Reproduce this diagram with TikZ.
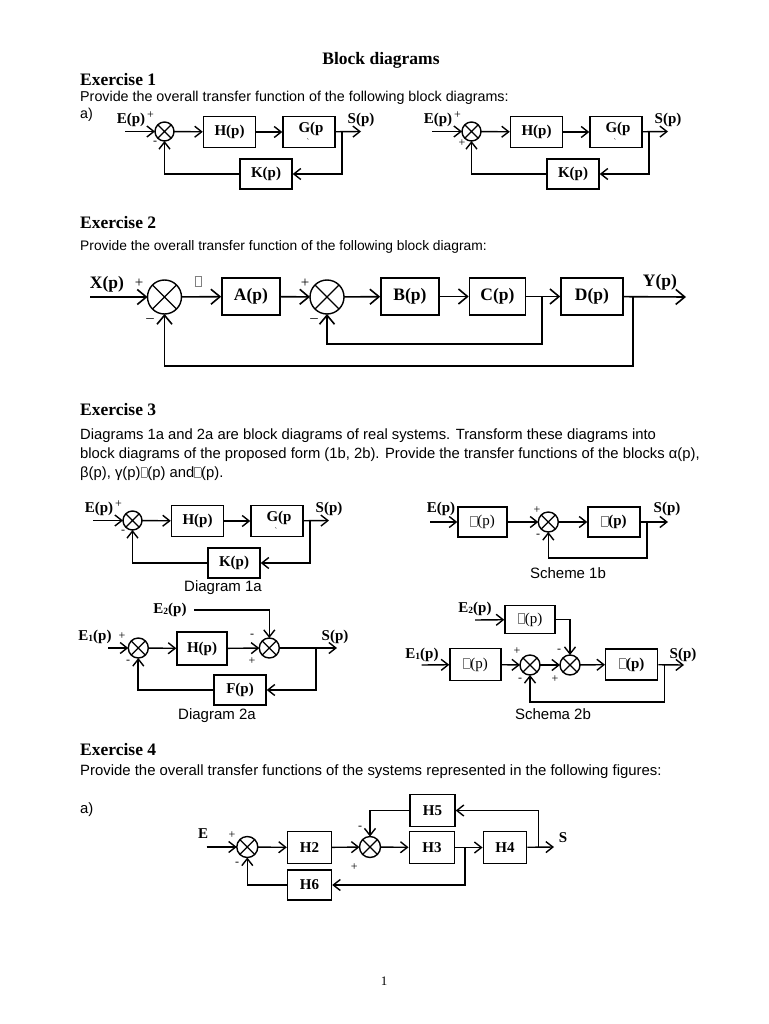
\documentclass[tikz,border=0pt]{standalone}
\usepackage{fontspec}
\setmainfont{Liberation Serif}
\newfontfamily\arial{Liberation Sans}
\usetikzlibrary{arrows.meta}
\newcommand\nog{{\fboxsep=0pt\fboxrule=0.5pt\textcolor{gray}{\fbox{\rule{0pt}{0.62em}\hspace{0.4em}}}}}
\newcommand\sbs[1]{\raisebox{-0.5pt}{\fontsize{9.5}{9.5}\selectfont #1}}
\tikzset{
  arr/.style={line width=1.4pt,-{Straight Barb[length=7pt,width=11pt,line width=1.4pt]}},
  barr/.style={line width=1.6pt,-{Straight Barb[length=9pt,width=15pt,line width=1.6pt]}},
  blk/.style={draw,line width=1.4pt,inner sep=0pt,font=\bfseries\fontsize{15}{16}\selectfont},
  bigblk/.style={draw,line width=1.6pt,inner sep=0pt,font=\bfseries\fontsize{17.5}{18}\selectfont},
  sj/.style={draw,circle,line width=1.4pt,inner sep=0pt,outer sep=0pt},
  lbl/.style={inner sep=0pt,font=\bfseries\fontsize{15}{16}\selectfont},
  biglbl/.style={inner sep=0pt,font=\bfseries\fontsize{17.5}{18}\selectfont},
  sgn/.style={inner sep=0pt,font=\fontsize{12}{12}\selectfont},
  bigsgn/.style={inner sep=0pt,font=\fontsize{15}{15}\selectfont},
  captxt/.style={inner sep=0pt,font=\arial\fontsize{15}{16}\selectfont},
  body/.style={inner sep=0pt,anchor=base west,font=\arial\fontsize{13.8}{16}\selectfont},
  head/.style={inner sep=0pt,anchor=base west,font=\bfseries\fontsize{17.5}{19}\selectfont},
}
\newcommand\sumat[3]{\node[sj,minimum size=#3] (#1) at (#2) {};
  \draw[line width=1.3pt] (#1.north west)--(#1.south east) (#1.north east)--(#1.south west);}
\newcommand\exone[4]{%
\begin{scope}[xshift=#2,yshift=#3]
\node[lbl] (#1e) at (131,120) {E(p)};
\node[sgn] (#1p) at (150.5,115) {+};
\sumat{#1c}{164.5,131.5}{19pt}
\coordinate (#1in) at (125,131.5);
\node[sgn] (#1m) at (155,143) {#4};
\node[blk,minimum width=52pt,minimum height=30.5pt] (#1h) at (229.5,132) {H(p)};
\node[blk,minimum width=52pt,minimum height=30.5pt] (#1g) at (309,132) {};
\node[lbl] (#1gt) at (311,129) {G(p};
\node[inner sep=0pt,font=\fontsize{8}{8}\selectfont] (#1gk) at (308,142) {\textasciigrave};
\node[blk,minimum width=52pt,minimum height=30pt] (#1k) at (266,174) {K(p)};
\coordinate (#1o) at (361,131.5);
\coordinate (#1t) at (342,131.5);
\node[lbl] (#1s) at (361,120) {S(p)};
\draw[arr] (#1in) -- (#1c);
\draw[arr] (#1c) -- (#1h);
\draw[arr] (#1h) -- (#1g);
\draw[arr] (#1g) -- (#1o);
\draw[arr] (#1t) |- (#1k);
\draw[arr] (#1k) -| (#1c);
\end{scope}}
\begin{document}
\begin{tikzpicture}[x=1pt,y=-1pt]
\fill[white] (0,0) rectangle (768,1024);
\path[use as bounding box] (0,0) rectangle (768,1024);
% headings and text
\node[inner sep=0pt,anchor=base,font=\bfseries\fontsize{17.5}{19}\selectfont] (title) at (381,65) {Block diagrams};
\node[head] (h1) at (80,86) {Exercise 1};
\node[body,font=\arial\fontsize{14.3}{16}\selectfont] (t1) at (80,102) {Provide the overall transfer function of the following block diagrams:};
\node[body,font=\arial\fontsize{14.3}{16}\selectfont] (a1) at (80,119) {a)};
\node[head] (h2) at (80,229) {Exercise 2};
\node[body] (t2) at (80,251) {Provide the overall transfer function of the following block diagram:};
\node[head] (h3) at (80,415) {Exercise 3};
\node[body,font=\arial\fontsize{14.8}{16}\selectfont] (t3a) at (80,439) {Diagrams 1a and 2a are block diagrams of real systems. Transform these diagrams into};
\node[body,font=\arial\fontsize{14.8}{16}\selectfont] (t3b) at (80,458) {block diagrams of the proposed form (1b, 2b). Provide the transfer functions of the blocks α(p),};
\node[body,font=\arial\fontsize{14.8}{16}\selectfont] (t3c) at (80,477) {β(p), γ(p)\nog(p) and\nog(p).};
\node[head] (h4) at (80,755) {Exercise 4};
\node[body,font=\arial\fontsize{14.9}{16}\selectfont] (t4) at (80,775) {Provide the overall transfer functions of the systems represented in the following figures:};
\node[body,font=\arial\fontsize{14.9}{16}\selectfont] (a4) at (80,813) {a)};
\node[inner sep=0pt,anchor=base,font=\fontsize{13}{14}\selectfont] (pg) at (384,985) {1};
% Exercise 1
\exone{L}{0}{0}{-}
\exone{R}{307}{0}{+}
% Exercise 2
\node[biglbl] (xp) at (107,284) {X(p)};
\node[bigsgn] (xpp) at (139,283) {+};
\sumat{ca}{164.5,297}{34pt}
\coordinate (xin) at (90,297);
\node[bigsgn] (cam) at (150,321) {--};
\node[inner sep=0pt,font=\fontsize{15}{15}\selectfont] (eps) at (198,281) {\nog};
\node[bigblk,minimum width=58pt,minimum height=37pt] (A) at (251,296.5) {A(p)};
\node[bigsgn] (cbp) at (305,283) {+};
\sumat{cb}{327,297}{34pt}
\node[bigsgn] (cbm) at (314,321) {--};
\node[bigblk,minimum width=58pt,minimum height=37pt] (B) at (410,296.5) {B(p)};
\node[bigblk,minimum width=56pt,minimum height=37pt] (C) at (497.5,296.5) {C(p)};
\node[bigblk,minimum width=62pt,minimum height=37pt] (D) at (592,296.5) {D(p)};
\node[biglbl] (yp) at (660,282) {Y(p)};
\coordinate (yout) at (686,297);
\coordinate (ti) at (542,297);
\coordinate (ti2) at (542,344);
\coordinate (to) at (633,297);
\coordinate (to2) at (633,366);
\draw[barr] (xin) -- (ca);
\draw[barr] (ca) -- (A);
\draw[barr] (A) -- (cb);
\draw[barr] (cb) -- (B);
\draw[barr] (B) -- (C);
\draw[barr] (C) -- (D);
\draw[barr] (D) -- (yout);
\draw[barr] (ti) -- (ti2) -| (cb);
\draw[barr] (to) -- (to2) -| (ca);
% Exercise 3 - Diagram 1a
\exone{Q}{-32}{-389}{-}
\node[captxt] (d1a) at (223,588) {Diagram 1a};
% Scheme 1b
\node[lbl] (s1e) at (441,509) {E(p)};
\coordinate (s1in) at (430,522);
\node[blk,minimum width=49pt,minimum height=30pt,font=\fontsize{15}{16}\selectfont] (s1a) at (482.5,522) {\nog(p)};
\node[sgn] (s1p) at (537,510) {+};
\sumat{s1c}{548.3,522}{20pt}
\node[sgn] (s1m) at (538,536) {-};
\node[blk,minimum width=52pt,minimum height=30pt] (s1b) at (614,522) {\nog(p)};
\coordinate (s1o) at (668,522);
\node[lbl] (s1s) at (667,509) {S(p)};
\coordinate (s1t) at (647,522);
\coordinate (s1t2) at (647,558);
\draw[arr] (s1in) -- (s1a);
\draw[arr] (s1a) -- (s1c);
\draw[arr] (s1c) -- (s1b);
\draw[arr] (s1b) -- (s1o);
\draw[arr] (s1t) -- (s1t2) -| (s1c);
\node[captxt] (s1cap) at (568,573) {Scheme 1b};
% Diagram 2a
\node[lbl] (d2e2) at (170,610) {E\sbs{2}(p)};
\coordinate (d2e2s) at (194,610);
\node[lbl] (d2e1) at (95,637) {E\sbs{1}(p)};
\node[sgn] (d2p1) at (122,636) {+};
\coordinate (d2in) at (108,648);
\sumat{d2c1}{138.3,648}{20pt}
\node[sgn] (d2m1) at (128,662) {-};
\node[blk,minimum width=50pt,minimum height=33pt] (d2h) at (202,648.5) {H(p)};
\sumat{d2c2}{269.3,648}{20pt}
\node[sgn] (d2m2) at (252,636) {-};
\node[sgn] (d2p2) at (252,661) {+};
\coordinate (d2o) at (337,648);
\node[lbl] (d2s) at (335,637) {S(p)};
\coordinate (d2t) at (316,648);
\coordinate (d2t2) at (316,690);
\node[blk,minimum width=52pt,minimum height=30pt] (d2f) at (240,690) {F(p)};
\draw[arr] (d2e2s) -| (d2c2);
\draw[arr] (d2in) -- (d2c1);
\draw[arr] (d2c1) -- (d2h);
\draw[arr] (d2h) -- (d2c2);
\draw[arr] (d2c2) -- (d2o);
\draw[arr] (d2t) -- (d2t2) -- (d2f);
\draw[line width=2pt,-{Straight Barb[length=7pt,width=11pt,line width=1.4pt]}] (d2f) -| (d2c1);
\node[captxt] (d2cap) at (217,716) {Diagram 2a};
% Schema 2b
\node[lbl] (s2e2) at (475,609) {E\sbs{2}(p)};
\coordinate (s2in2) at (475,620);
\node[blk,minimum width=50pt,minimum height=28pt,font=\fontsize{15}{16}\selectfont] (s2t) at (530,619.5) {\nog(p)};
\node[lbl] (s2e1) at (422,655) {E\sbs{1}(p)};
\coordinate (s2in1) at (421.7,665);
\node[blk,minimum width=51pt,minimum height=32pt,font=\fontsize{15}{16}\selectfont] (s2a) at (475.5,664.5) {\nog(p)};
\sumat{s2c1}{530,665}{20pt}
\node[sgn] (s2p1) at (517,651) {+};
\node[sgn] (s2m1) at (520,680) {-};
\sumat{s2c2}{570,665}{20pt}
\node[sgn] (s2m2) at (559,651) {-};
\node[sgn] (s2p2) at (555,679) {+};
\node[blk,minimum width=52pt,minimum height=31pt] (s2b) at (631.7,664.5) {\nog(p)};
\coordinate (s2o) at (684,665);
\node[lbl] (s2s) at (683,655) {S(p)};
\coordinate (s2tp) at (664.3,665);
\coordinate (s2tp2) at (664.3,702);
\draw[arr] (s2in2) -- (s2t);
\draw[arr] (s2t) -| (s2c2);
\draw[arr] (s2in1) -- (s2a);
\draw[arr] (s2a) -- (s2c1);
\draw[arr] (s2c1) -- (s2c2);
\draw[arr] (s2c2) -- (s2b);
\draw[arr] (s2b) -- (s2o);
\draw[arr] (s2tp) -- (s2tp2) -| (s2c1);
\node[captxt] (s2cap) at (553,714) {Schema 2b};
% Exercise 4
\node[lbl] (e4e) at (203,834) {E};
\node[sgn] (e4p1) at (232,835) {+};
\coordinate (e4in) at (206.7,847);
\sumat{e4c1}{247.3,847}{21pt}
\node[sgn] (e4m1) at (237,864) {-};
\node[blk,minimum width=44pt,minimum height=31.5pt] (H2) at (309.5,847.5) {H2};
\sumat{e4c2}{370,847}{21pt}
\node[sgn] (e4m2) at (360,828) {-};
\node[sgn] (e4p2) at (354.3,867) {+};
\node[blk,minimum width=45.5pt,minimum height=31.5pt] (H3) at (432,847.5) {H3};
\node[blk,minimum width=43.5pt,minimum height=31.5pt] (H4) at (505,847.5) {H4};
\node[blk,minimum width=45pt,minimum height=31.5pt] (H5) at (432.5,810.5) {H5};
\node[blk,minimum width=44pt,minimum height=30pt] (H6) at (309.5,885) {H6};
\coordinate (e4o) at (554,847);
\node[lbl] (e4s) at (563,838) {S};
\coordinate (e4t5) at (538.3,847);
\coordinate (e4t6) at (465,847);
\draw[arr] (e4in) -- (e4c1);
\draw[arr] (e4c1) -- (H2);
\draw[arr] (H2) -- (e4c2);
\draw[arr] (e4c2) -- (H3);
\draw[arr] (H3) -- (H4);
\draw[arr] (H4) -- (e4o);
\draw[arr] (e4t5) |- (H5);
\draw[arr] (H5) -| (e4c2);
\draw[arr] (e4t6) |- (H6);
\draw[arr] (H6) -| (e4c1);
\end{tikzpicture}
\end{document}
